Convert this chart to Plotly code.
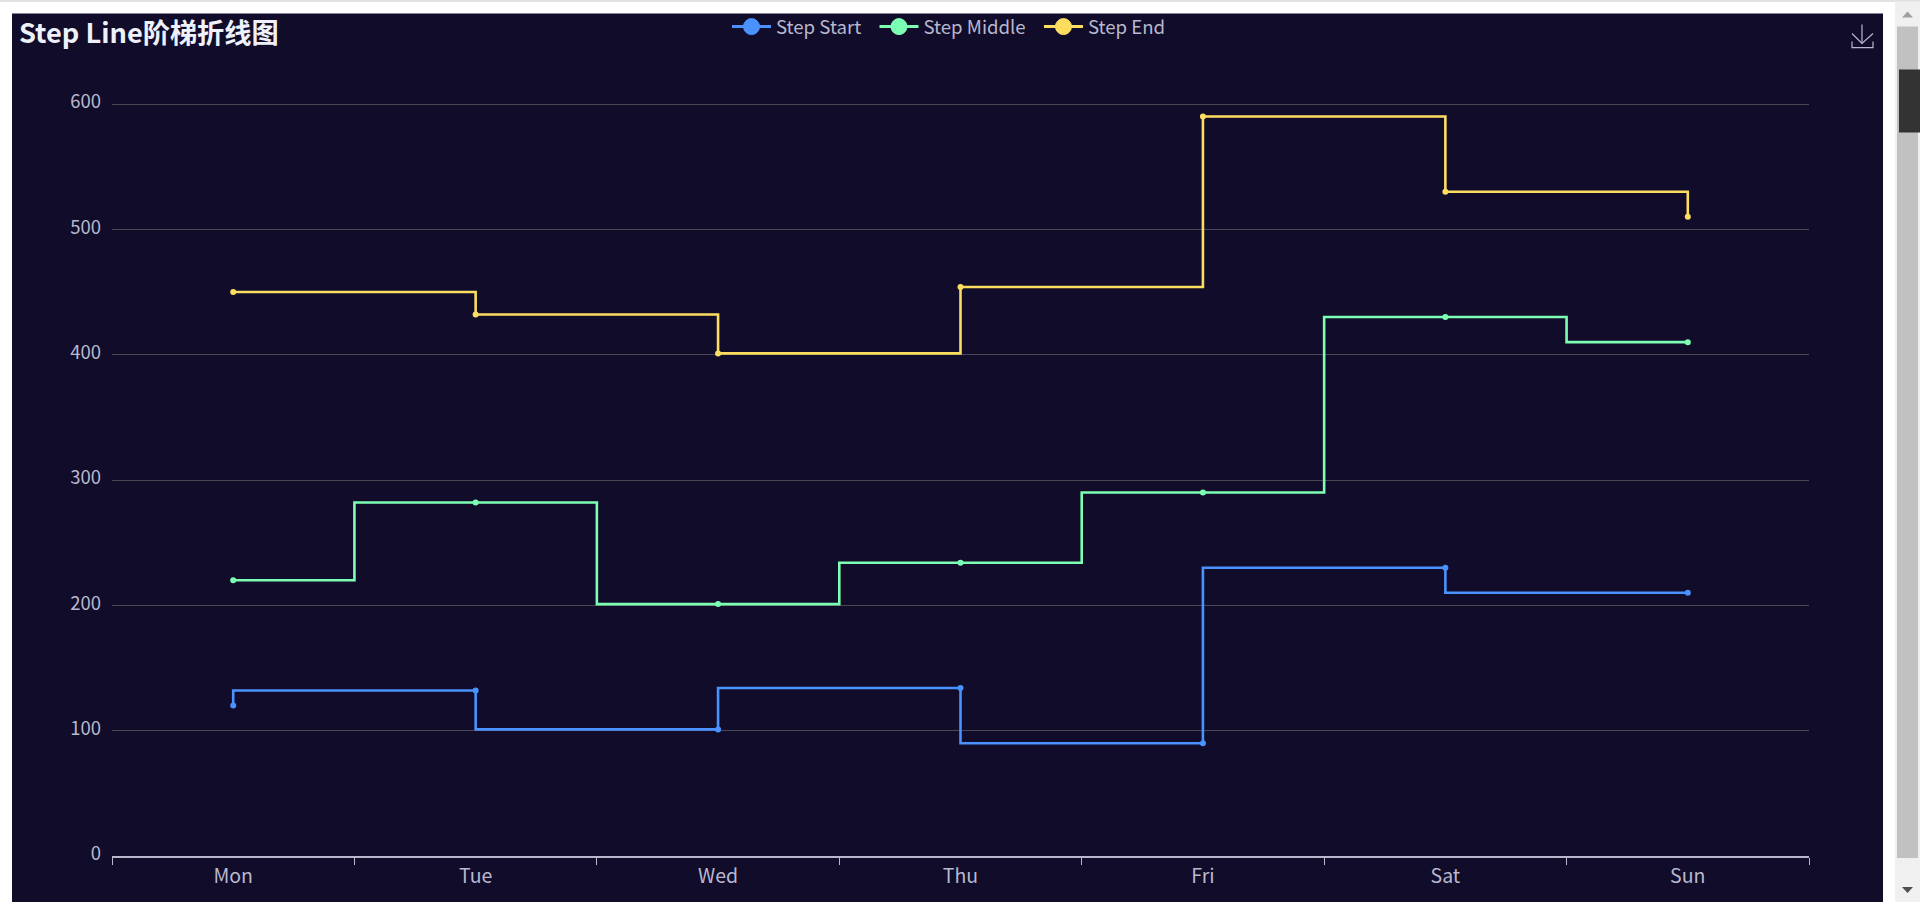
import plotly.graph_objects as go

categories = ["Mon", "Tue", "Wed", "Thu", "Fri", "Sat", "Sun"]
step_start = [120, 132, 101, 134, 90, 230, 210]
step_middle = [220, 282, 201, 234, 290, 430, 410]
step_end = [450, 432, 401, 454, 590, 530, 510]
series_names = ["Step Start", "Step Middle", "Step End"]
legend_pad = ["\u00a0\u00a0", "\u00a0\u00a0", ""]
y_ticks = [0, 100, 200, 300, 400, 500, 600]
y_top = 603.2
title_text = "Step Line阶梯折线图"

W, H = 1920, 902
L, R, T, B = 112, 1809, 99.5, 856
BG = "#100c2a"
TXT = "#B9B8CE"
FONT = "Noto Sans CJK SC, Noto Sans, sans-serif"
colors = ["#4992ff", "#7cffb2", "#fddd60"]
shapes_kind = ["vh", "hvh", "hv"]


def px(x):
    return (x - L) / (R - L)


def py(y):
    return (B - y) / (B - T)


def rect(x0, y0, x1, y1, color, layer="below"):
    return dict(type="rect", xref="paper", yref="paper", x0=px(x0), x1=px(x1), y0=py(y0), y1=py(y1),
                fillcolor=color, line_width=0, layer=layer)


def path(points, line=None, fill=None, close=False):
    d = "M" + " L".join(f"{px(a):.5f},{py(b):.5f}" for a, b in points) + (" Z" if close else "")
    s = dict(type="path", xref="paper", yref="paper", path=d, layer="above")
    s["line"] = dict(color=line, width=1.2) if line else dict(width=0)
    if fill:
        s["fillcolor"] = fill
    return s


fig = go.Figure()
for name, vals, col, shp in zip(series_names, [step_start, step_middle, step_end], colors, shapes_kind):
    fig.add_trace(go.Scatter(x=categories, y=vals, name=name, mode="lines+markers", showlegend=False,
                             line=dict(color=col, width=2.6, shape=shp),
                             marker=dict(color=col, size=6)))
for name, pad, col in zip(series_names, legend_pad, colors):
    fig.add_trace(go.Scatter(x=[None], y=[None], name=name + pad, mode="lines+markers",
                             line=dict(color=col, width=3),
                             marker=dict(color=col, size=16, line=dict(color=col, width=1))))

shapes = [
    rect(0, 0, W, 1, "#c4c4c4"),
    rect(12, 13, 1883, H + 2, BG),
    rect(1895, 1, W, H + 2, "#f0f0f0", "above"),
    rect(1897, 26, 1918, 858, "#c1c1c1", "above"),
    rect(1899, 69, W, 132, "#333333", "above"),
    path([(1902, 17), (1907.5, 11), (1913, 17)], fill="#a0a0a0", close=True),
    path([(1902, 887), (1907.5, 893), (1913, 887)], fill="#505050", close=True),
    path([(1862, 24), (1862, 43)], line=TXT),
    path([(1852, 33), (1862, 43), (1873, 33)], line=TXT),
    path([(1852, 41), (1852, 47), (1873, 47), (1873, 41)], line=TXT),
]

fig.update_layout(
    width=W, height=H, autosize=False,
    paper_bgcolor="white", plot_bgcolor=BG,
    margin=dict(l=L, r=W - R, t=T, b=H - B, pad=0),
    font=dict(family=FONT, color=TXT, size=18),
    title=dict(text=f"<b>{title_text}</b>", x=19 / W, xref="container", xanchor="left",
               y=1 - 33 / H, yref="container", yanchor="middle",
               font=dict(size=27.2, color="#EEF1FA", family=FONT)),
    legend=dict(orientation="h", x=949 / W, xref="container", xanchor="center",
                y=1 - 27 / H, yref="container", yanchor="middle",
                bgcolor="rgba(0,0,0,0)", font=dict(size=18.6, color=TXT), itemwidth=39,
                itemsizing="trace"),
    xaxis=dict(type="category", categoryorder="array", categoryarray=categories,
               range=[-0.5, 6.5], tickson="boundaries", ticks="outside", ticklen=7, tickwidth=1.2,
               tickcolor=TXT, showline=True, linecolor=TXT, linewidth=1.5, showgrid=False,
               zeroline=False, ticklabelstandoff=2, tickfont=dict(size=19.5, color=TXT)),
    yaxis=dict(range=[0, y_top], tickmode="array", tickvals=y_ticks, ticks="", showline=False,
               gridcolor="#484753", gridwidth=1.4, zeroline=False, ticklabelstandoff=10,
               ticklabelshift=-2, tickfont=dict(size=18.5, color=TXT)),
    shapes=shapes,
)

fig.write_html("out.html", config=dict(displayModeBar=False),
               post_script="document.body.style.margin='0';document.body.style.overflow='hidden';")
